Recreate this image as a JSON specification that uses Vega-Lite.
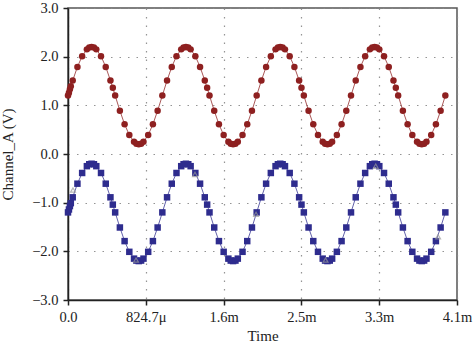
{
  "$schema": "https://vega.github.io/schema/vega-lite/v6.json",
  "autosize": "none",
  "width": 389,
  "height": 292,
  "padding": {"left": 68, "top": 8, "right": 17, "bottom": 51},
  "background": "white",
  "config": {
    "view": {"stroke": "#555", "strokeWidth": 1.5},
    "axis": {
      "labelFont": "Liberation Serif", "labelFontSize": 14.5, "labelColor": "#222",
      "titleFont": "Liberation Serif", "titleFontSize": 15, "titleFontWeight": "normal", "titleColor": "#222",
      "domainColor": "#222", "domainWidth": 1.5, "tickColor": "#222", "tickWidth": 1.5, "tickSize": 5,
      "gridColor": "#888", "gridDash": [1.5, 7], "gridWidth": 1.2, "gridOpacity": 0.9
    }
  },
  "datasets": {
    "wave": [
      {"t": 0, "upper": 1.20, "lower": -1.20},
      {"t": 10, "upper": 1.26, "lower": -1.14},
      {"t": 20, "upper": 1.33, "lower": -1.07},
      {"t": 30, "upper": 1.39, "lower": -1.01},
      {"t": 50, "upper": 1.51, "lower": -0.89},
      {"t": 100, "upper": 1.79, "lower": -0.61},
      {"t": 150, "upper": 2.01, "lower": -0.39},
      {"t": 200, "upper": 2.15, "lower": -0.25},
      {"t": 225, "upper": 2.19, "lower": -0.21},
      {"t": 250, "upper": 2.20, "lower": -0.20},
      {"t": 275, "upper": 2.19, "lower": -0.21},
      {"t": 300, "upper": 2.15, "lower": -0.25},
      {"t": 350, "upper": 2.01, "lower": -0.39},
      {"t": 400, "upper": 1.79, "lower": -0.61},
      {"t": 450, "upper": 1.51, "lower": -0.89},
      {"t": 475, "upper": 1.36, "lower": -1.04},
      {"t": 500, "upper": 1.20, "lower": -1.20},
      {"t": 550, "upper": 0.89, "lower": -1.51},
      {"t": 600, "upper": 0.61, "lower": -1.79},
      {"t": 650, "upper": 0.39, "lower": -2.01},
      {"t": 700, "upper": 0.25, "lower": -2.15},
      {"t": 725, "upper": 0.21, "lower": -2.19},
      {"t": 750, "upper": 0.20, "lower": -2.20},
      {"t": 775, "upper": 0.21, "lower": -2.19},
      {"t": 800, "upper": 0.25, "lower": -2.15},
      {"t": 850, "upper": 0.39, "lower": -2.01},
      {"t": 900, "upper": 0.61, "lower": -1.79},
      {"t": 950, "upper": 0.89, "lower": -1.51},
      {"t": 1000, "upper": 1.20, "lower": -1.20},
      {"t": 1050, "upper": 1.51, "lower": -0.89},
      {"t": 1100, "upper": 1.79, "lower": -0.61},
      {"t": 1150, "upper": 2.01, "lower": -0.39},
      {"t": 1200, "upper": 2.15, "lower": -0.25},
      {"t": 1225, "upper": 2.19, "lower": -0.21},
      {"t": 1250, "upper": 2.20, "lower": -0.20},
      {"t": 1275, "upper": 2.19, "lower": -0.21},
      {"t": 1300, "upper": 2.15, "lower": -0.25},
      {"t": 1350, "upper": 2.01, "lower": -0.39},
      {"t": 1400, "upper": 1.79, "lower": -0.61},
      {"t": 1450, "upper": 1.51, "lower": -0.89},
      {"t": 1475, "upper": 1.36, "lower": -1.04},
      {"t": 1500, "upper": 1.20, "lower": -1.20},
      {"t": 1550, "upper": 0.89, "lower": -1.51},
      {"t": 1600, "upper": 0.61, "lower": -1.79},
      {"t": 1650, "upper": 0.39, "lower": -2.01},
      {"t": 1700, "upper": 0.25, "lower": -2.15},
      {"t": 1725, "upper": 0.21, "lower": -2.19},
      {"t": 1750, "upper": 0.20, "lower": -2.20},
      {"t": 1775, "upper": 0.21, "lower": -2.19},
      {"t": 1800, "upper": 0.25, "lower": -2.15},
      {"t": 1850, "upper": 0.39, "lower": -2.01},
      {"t": 1900, "upper": 0.61, "lower": -1.79},
      {"t": 1950, "upper": 0.89, "lower": -1.51},
      {"t": 2000, "upper": 1.20, "lower": -1.20},
      {"t": 2050, "upper": 1.51, "lower": -0.89},
      {"t": 2100, "upper": 1.79, "lower": -0.61},
      {"t": 2150, "upper": 2.01, "lower": -0.39},
      {"t": 2200, "upper": 2.15, "lower": -0.25},
      {"t": 2225, "upper": 2.19, "lower": -0.21},
      {"t": 2250, "upper": 2.20, "lower": -0.20},
      {"t": 2275, "upper": 2.19, "lower": -0.21},
      {"t": 2300, "upper": 2.15, "lower": -0.25},
      {"t": 2350, "upper": 2.01, "lower": -0.39},
      {"t": 2400, "upper": 1.79, "lower": -0.61},
      {"t": 2450, "upper": 1.51, "lower": -0.89},
      {"t": 2475, "upper": 1.36, "lower": -1.04},
      {"t": 2500, "upper": 1.20, "lower": -1.20},
      {"t": 2550, "upper": 0.89, "lower": -1.51},
      {"t": 2600, "upper": 0.61, "lower": -1.79},
      {"t": 2650, "upper": 0.39, "lower": -2.01},
      {"t": 2700, "upper": 0.25, "lower": -2.15},
      {"t": 2725, "upper": 0.21, "lower": -2.19},
      {"t": 2750, "upper": 0.20, "lower": -2.20},
      {"t": 2775, "upper": 0.21, "lower": -2.19},
      {"t": 2800, "upper": 0.25, "lower": -2.15},
      {"t": 2850, "upper": 0.39, "lower": -2.01},
      {"t": 2900, "upper": 0.61, "lower": -1.79},
      {"t": 2950, "upper": 0.89, "lower": -1.51},
      {"t": 3000, "upper": 1.20, "lower": -1.20},
      {"t": 3050, "upper": 1.51, "lower": -0.89},
      {"t": 3100, "upper": 1.79, "lower": -0.61},
      {"t": 3150, "upper": 2.01, "lower": -0.39},
      {"t": 3200, "upper": 2.15, "lower": -0.25},
      {"t": 3225, "upper": 2.19, "lower": -0.21},
      {"t": 3250, "upper": 2.20, "lower": -0.20},
      {"t": 3275, "upper": 2.19, "lower": -0.21},
      {"t": 3300, "upper": 2.15, "lower": -0.25},
      {"t": 3350, "upper": 2.01, "lower": -0.39},
      {"t": 3400, "upper": 1.79, "lower": -0.61},
      {"t": 3450, "upper": 1.51, "lower": -0.89},
      {"t": 3475, "upper": 1.36, "lower": -1.04},
      {"t": 3500, "upper": 1.20, "lower": -1.20},
      {"t": 3550, "upper": 0.89, "lower": -1.51},
      {"t": 3600, "upper": 0.61, "lower": -1.79},
      {"t": 3650, "upper": 0.39, "lower": -2.01},
      {"t": 3700, "upper": 0.25, "lower": -2.15},
      {"t": 3725, "upper": 0.21, "lower": -2.19},
      {"t": 3750, "upper": 0.20, "lower": -2.20},
      {"t": 3775, "upper": 0.21, "lower": -2.19},
      {"t": 3800, "upper": 0.25, "lower": -2.15},
      {"t": 3850, "upper": 0.39, "lower": -2.01},
      {"t": 3900, "upper": 0.61, "lower": -1.79},
      {"t": 3950, "upper": 0.89, "lower": -1.51},
      {"t": 4000, "upper": 1.20, "lower": -1.20}
    ],
    "flags": [
      {"t": 53, "v": -0.74},
      {"t": 721, "v": -2.18},
      {"t": 1346, "v": -0.42},
      {"t": 1993, "v": -1.24},
      {"t": 2730, "v": -2.18},
      {"t": 3262, "v": -0.25},
      {"t": 3923, "v": -1.70}
    ]
  },
  "layer": [
    {
      "data": {"name": "wave"},
      "transform": [{"fold": ["upper", "lower"], "as": ["series", "v"]}],
      "mark": {"type": "line", "strokeWidth": 1, "opacity": 0.75},
      "encoding": {
        "x": {"field": "t", "type": "quantitative",
          "scale": {"domain": [0, 4123.5], "nice": false, "zero": false},
          "axis": {"title": "Time", "titlePadding": 5, "labelPadding": 5,
            "values": [0, 412.35, 824.7, 1237.05, 1649.4, 2061.75, 2474.1, 2886.45, 3298.8, 3711.15, 4123.5],
            "labelExpr": "round(datum.value/412.35)%2==1 ? '' : (datum.value==0 ? '0.0' : (datum.value<1000 ? '824.7μ' : format(datum.value/1000,'.1f')+'m'))",
            "labelOverlap": false, "labelFlush": false}},
        "y": {"field": "v", "type": "quantitative",
          "scale": {"domain": [-3, 3], "nice": false},
          "axis": {"title": "Channel_A (V)", "values": [-3, -2, -1, 0, 1, 2, 3], "format": ".1f", "titlePadding": 16, "labelPadding": 5}},
        "color": {"field": "series", "type": "nominal", "legend": null,
          "scale": {"domain": ["upper", "lower"], "range": ["#8E2020", "#2E2C8E"]}},
        "detail": {"field": "series"}
      }
    },
    {
      "data": {"name": "wave"},
      "transform": [{"fold": ["upper", "lower"], "as": ["series", "v"]}],
      "mark": {"type": "point", "filled": true, "opacity": 1, "size": 42},
      "encoding": {
        "x": {"field": "t", "type": "quantitative"},
        "y": {"field": "v", "type": "quantitative"},
        "color": {"field": "series", "type": "nominal", "legend": null},
        "shape": {"field": "series", "type": "nominal", "legend": null,
          "scale": {"domain": ["upper", "lower"], "range": ["circle", "square"]}}
      }
    },
    {
      "data": {"name": "flags"},
      "mark": {"type": "point", "shape": "triangle-up", "filled": false, "color": "#9a9a9a", "size": 24, "strokeWidth": 1.2},
      "encoding": {
        "x": {"field": "t", "type": "quantitative"},
        "y": {"field": "v", "type": "quantitative"}
      }
    }
  ]
}
